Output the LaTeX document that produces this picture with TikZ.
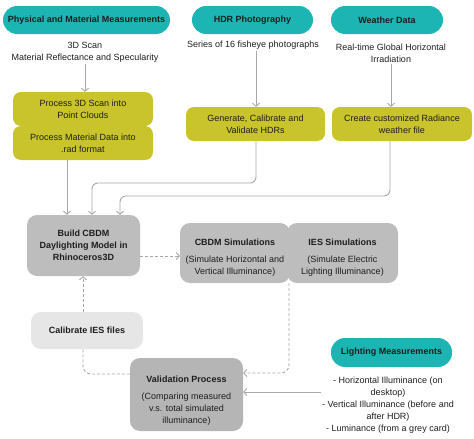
\documentclass[tikz,border=0pt]{standalone}
\usepackage{fontspec}
\setmainfont{Liberation Sans}
\usetikzlibrary{arrows.meta,calc}
\definecolor{teal1}{HTML}{1DB5B3}
\definecolor{olive1}{HTML}{C9C42C}
\definecolor{gray1}{HTML}{BDBDBD}
\definecolor{gray2}{HTML}{B5B5B5}
\definecolor{gray3}{HTML}{E6E6E6}
\definecolor{line1}{HTML}{A8A8A8}
\definecolor{txt1}{HTML}{1E1E1E}
\newcommand{\lowerby}[1]{\rule{0pt}{#1}}
\tikzset{
  base/.style={inner sep=1pt, align=center, text=txt1, font=\fontsize{9}{12}\selectfont},
  pill/.style={base, fill=teal1, rounded corners=14pt, font=\fontsize{9}{12}\selectfont\bfseries},
  ybox/.style={base, fill=olive1, rounded corners=8pt},
  gbox/.style={base, fill=gray1, rounded corners=10pt},
  plain/.style={base},
  arr/.style={draw=line1, line width=0.9pt, -{Straight Barb[length=3pt,width=7pt]}},
  dsh/.style={draw=line1, line width=0.9pt, dash pattern=on 3pt off 2pt},
  dsharr/.style={dsh, -{Straight Barb[length=3pt,width=7pt]}},
}
\begin{document}
\begin{tikzpicture}[x=1pt,y=-1pt]
\useasboundingbox (0,0) rectangle (474,439);
% top pills
\node[pill, minimum width=167pt, minimum height=28pt] (pm) at (86.5,20) {Physical and Material Measurements};
\node[pill, minimum width=121pt, minimum height=28pt] (hdr) at (252.5,20) {HDR Photography};
\node[pill, minimum width=112pt, minimum height=28pt] (wd) at (387,20) {Weather Data};
% descriptive text
\node[plain] (pmtxt) at (85,52.5) {3D Scan\\Material Reflectance and Specularity};
\node[plain] (hdrtxt) at (253,45.5) {Series of 16 fisheye photographs};
\node[plain] (wdtxt) at (391,53.5) {Real-time Global Horizontal\\Irradiation};
% yellow boxes
\node[ybox, minimum width=140pt, minimum height=34pt] (p3d) at (83,109) {Process 3D Scan into\\Point Clouds};
\node[ybox, minimum width=140pt, minimum height=34pt] (pmat) at (83,143) {Process Material Data into\\.rad format};
\node[ybox, minimum width=139pt, minimum height=34pt] (gen) at (255.5,124) {Generate, Calibrate and\\Validate HDRs};
\node[ybox, minimum width=140pt, minimum height=34pt] (rad) at (402,124) {Create customized Radiance\\weather file};
% gray boxes
\node[gbox, minimum width=113pt, minimum height=61pt, font=\fontsize{9}{12}\selectfont\bfseries] (build) at (83.5,245.5) {Build CBDM\\Daylighting Model in\\Rhinoceros3D};
\node[gbox, minimum width=111pt, minimum height=60pt] (ies) at (342.5,253) {\lowerby{15pt}\textbf{IES Simulations}\\[5pt](Simulate Electric\\Lighting Illuminance)};
\node[gbox, minimum width=110pt, minimum height=60pt] (cbdm) at (235,253) {\lowerby{15pt}\textbf{CBDM Simulations}\\[5pt](Simulate Horizontal and\\Vertical Illuminance)};
\node[base, fill=gray3, rounded corners=10pt, minimum width=112pt, minimum height=37pt, font=\fontsize{9}{12}\selectfont\bfseries] (cal) at (87,330.5) {Calibrate IES files};
\node[base, fill=gray2, rounded corners=10pt, minimum width=113pt, minimum height=73pt] (val) at (186.5,394.5) {\lowerby{19pt}\textbf{Validation Process}\\[5pt](Comparing measured\\v.s. total simulated\\illuminance)};
\node[pill, minimum width=121pt, minimum height=29pt] (lm) at (391.5,352.5) {Lighting Measurements};
\node[plain] (lmtxt) at (388,405.5) {- Horizontal Illuminance (on\\desktop)\\- Vertical Illuminance (before and\\after HDR)\\- Luminance (from a grey card)};
\coordinate (j) at (289,283);
% connectors
\draw[arr] (pmtxt.south) -- (pmtxt.south |- p3d.north);
\draw[arr] ([xshift=3pt]hdrtxt.south) -- ([xshift=3pt]hdrtxt.south |- gen.north);
\draw[arr] (wdtxt.south) -- (wdtxt.south |- rad.north);
\draw[arr] ([xshift=-16pt]pmat.south) -- ([xshift=-16pt]pmat.south |- build.north);
\draw[arr, rounded corners=6pt] ([xshift=0.5pt]gen.south) -- ([xshift=0.5pt]gen.south |- 0,183) -- (92,183) -- (92,0 |- build.north);
\draw[arr, rounded corners=6pt] ([xshift=-12pt]rad.south) -- ([xshift=-12pt]rad.south |- 0,196) -- (120,196) -- (120,0 |- build.north);
\draw[dsharr] ([yshift=-10.5pt]build.east) -- ([yshift=-10.5pt]build.east -| cbdm.west);
\draw[dsharr, rounded corners=8pt] (j) -- (289,373) -- (289,373 -| val.east);
\draw[arr] (lmtxt.west |- 0,392) -- (val.east |- 0,392);
\draw[dsh, rounded corners=8pt] (val.west |- 0,374) -- (83,374) -- (83,0 |- cal.south);
\draw[dsharr] (83,0 |- cal.north) -- (83,0 |- build.south);
\end{tikzpicture}
\end{document}
